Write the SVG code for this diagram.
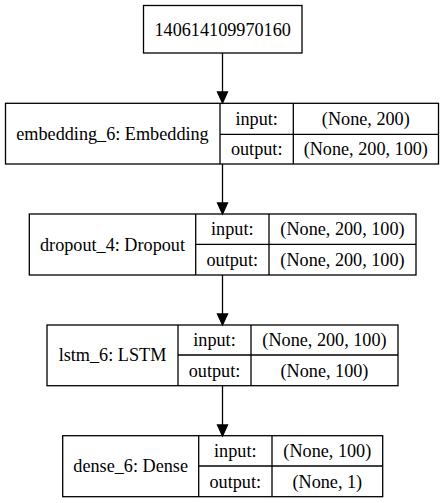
<svg xmlns="http://www.w3.org/2000/svg" width="445" height="503" viewBox="0 0 445 503">
<style>
rect.n, line.d { fill: none; stroke: #000; stroke-width: 1.3; }
text { font-family: "Liberation Serif", "Times New Roman", serif; font-size: 18.2px; text-anchor: middle; fill: #000; }
.edge line { stroke: #000; stroke-width: 1.3; }
.edge polygon { fill: #000; stroke: #000; stroke-width: 1.3; }
</style>
<rect x="0" y="0" width="445" height="503" fill="#fff"/>
<g class="edge" id="connectors">
<line x1="222.5" y1="53" x2="222.5" y2="92"/><polygon points="217.5,92 227.5,92 222.5,103"/>
<line x1="222.5" y1="164" x2="222.5" y2="203"/><polygon points="217.5,203 227.5,203 222.5,214"/>
<line x1="222.5" y1="275" x2="222.5" y2="314"/><polygon points="217.5,314 227.5,314 222.5,325"/>
<line x1="222.5" y1="386" x2="222.5" y2="425"/><polygon points="217.5,425 227.5,425 222.5,436"/>
</g>
<g id="input_node">
<rect class="n" x="143.5" y="5.5" width="158.5" height="47.5"/>
<text x="222.7" y="35.5">140614109970160</text>
</g>
<g id="embedding_6">
<rect class="n" x="5.5" y="103.3" width="433" height="60.7"/>
<line class="d" x1="220" y1="103.3" x2="220" y2="164"/>
<line class="d" x1="293.3" y1="103.3" x2="293.3" y2="164"/>
<line class="d" x1="220" y1="134.3" x2="438.5" y2="134.3"/>
<text x="112.5" y="139.5">embedding_6: Embedding</text>
<text x="256.7" y="124.5">input:</text>
<text x="365.8" y="124.5">(None, 200)</text>
<text x="256.7" y="155">output:</text>
<text x="365.8" y="155">(None, 200, 100)</text>
</g>
<g id="dropout_4">
<rect class="n" x="29.3" y="214" width="386.7" height="61"/>
<line class="d" x1="195.7" y1="214" x2="195.7" y2="275"/>
<line class="d" x1="269" y1="214" x2="269" y2="275"/>
<line class="d" x1="195.7" y1="244.3" x2="416" y2="244.3"/>
<text x="112.5" y="250.5">dropout_4: Dropout</text>
<text x="232.3" y="235">input:</text>
<text x="342.5" y="235">(None, 200, 100)</text>
<text x="232.3" y="265.5">output:</text>
<text x="342.5" y="265.5">(None, 200, 100)</text>
</g>
<g id="lstm_6">
<rect class="n" x="47" y="325" width="351" height="60.7"/>
<line class="d" x1="178" y1="325" x2="178" y2="385.7"/>
<line class="d" x1="251" y1="325" x2="251" y2="385.7"/>
<line class="d" x1="178" y1="355" x2="398" y2="355"/>
<text x="112.5" y="361">lstm_6: LSTM</text>
<text x="214.5" y="346">input:</text>
<text x="324.5" y="346">(None, 200, 100)</text>
<text x="214.5" y="376.5">output:</text>
<text x="324.5" y="376.5">(None, 100)</text>
</g>
<g id="dense_6">
<rect class="n" x="62.7" y="435.7" width="320" height="61"/>
<line class="d" x1="198.7" y1="435.7" x2="198.7" y2="496.7"/>
<line class="d" x1="272" y1="435.7" x2="272" y2="496.7"/>
<line class="d" x1="198.7" y1="466" x2="382.7" y2="466"/>
<text x="130.7" y="472">dense_6: Dense</text>
<text x="235.3" y="457">input:</text>
<text x="327.3" y="457">(None, 100)</text>
<text x="235.3" y="487.5">output:</text>
<text x="327.3" y="487.5">(None, 1)</text>
</g>
</svg>
